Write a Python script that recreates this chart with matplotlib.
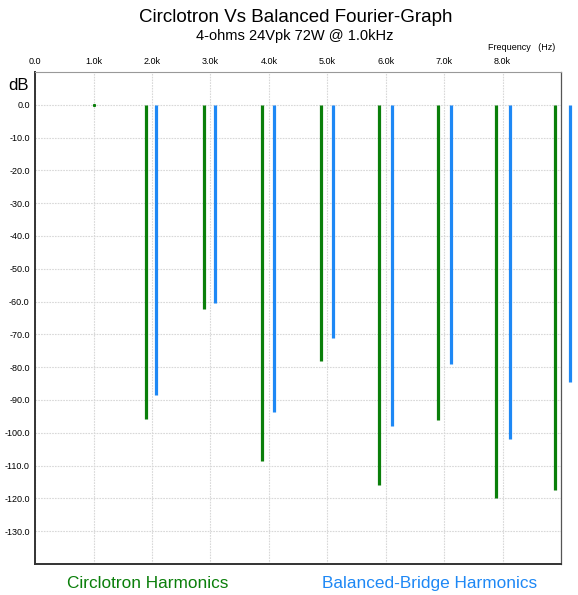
import matplotlib.pyplot as plt

# harmonic data (Hz, dB)
circ_freq = [1890, 2890, 3890, 4895, 5890, 6890, 7890, 8900]
circ_db = [-95.9, -62.4, -108.5, -78.2, -115.9, -96.2, -119.9, -117.5]
bal_freq = [2075, 3085, 4095, 5105, 6115, 7125, 8135, 9155]
bal_db = [-88.6, -60.5, -93.7, -71.0, -97.8, -79.0, -101.8, -84.6]
fund_freq = 1000
fund_db = 0.0

x_ticks = [0, 1000, 2000, 3000, 4000, 5000, 6000, 7000, 8000, 9000]
x_labels = ['0.0', '1.0k', '2.0k', '3.0k', '4.0k', '5.0k', '6.0k', '7.0k', '8.0k', '']
y_ticks = list(range(0, -140, -10))

green = '#0a7f0a'
blue = '#1e88f5'

plt.rcParams['font.family'] = ['Liberation Sans', 'DejaVu Sans']

fig = plt.figure(figsize=(5.78, 5.95), dpi=100)
ax = fig.add_axes([0.0609, 0.0521, 0.9097, 0.8269])

for f, v in zip(circ_freq, circ_db):
    ax.plot([f, f], [0, v], color=green, lw=2.3, solid_capstyle='butt')
for f, v in zip(bal_freq, bal_db):
    ax.plot([f, f], [0, v], color=blue, lw=2.3, solid_capstyle='butt', clip_on=False)
ax.plot([fund_freq], [fund_db], marker='s', ms=1.2, color=green, mec=green)

ax.set_xlim(0, 9000)
ax.set_ylim(-140, 10)
ax.set_xticks(x_ticks)
ax.set_xticklabels(x_labels, fontsize=6.5)
ax.set_yticks(y_ticks)
ax.set_yticklabels(['%.1f' % t for t in y_ticks], fontsize=6.5)
ax.xaxis.tick_top()
ax.tick_params(length=0, pad=4)
ax.grid(True, color='#d8d8d8', lw=0.8, ls=(0, (1.5, 1)))
ax.set_axisbelow(True)

for s in ['left', 'bottom']:
    ax.spines[s].set_color('#333333')
    ax.spines[s].set_linewidth(1.4)
ax.spines['top'].set_color('#999999')
ax.spines['top'].set_linewidth(0.8)
ax.spines['right'].set_color('#555555')
ax.spines['right'].set_linewidth(0.9)

fig.text(0.512, 0.971, 'Circlotron Vs Balanced Fourier-Graph', ha='center', va='center', fontsize=13.5)
fig.text(0.51, 0.939, '4-ohms 24Vpk 72W @ 1.0kHz', ha='center', va='center', fontsize=10.5)
fig.text(0.96, 0.921, 'Frequency   (Hz)', ha='right', va='center', fontsize=6.5)
fig.text(0.032, 0.857, 'dB', ha='center', va='center', fontsize=12)
fig.text(0.256, 0.020, 'Circlotron Harmonics', ha='center', va='center', fontsize=12.4, color=green)
fig.text(0.744, 0.020, 'Balanced-Bridge Harmonics', ha='center', va='center', fontsize=12.4, color=blue)

fig.savefig('out.png', dpi=100)
